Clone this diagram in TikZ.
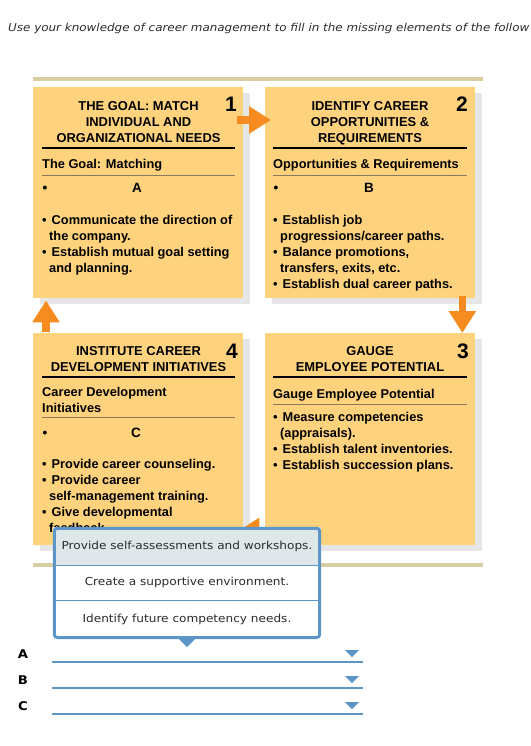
\documentclass[tikz,border=0pt]{standalone}
\usepackage{fontspec}
\setmainfont{Liberation Sans}
\newfontfamily\uifont[FakeStretch=1.1]{DejaVu Sans}
\usetikzlibrary{arrows.meta, positioning, shadows}
\definecolor{cardFill}{HTML}{FFD37E}
\definecolor{shadowGray}{HTML}{E6E6E6}
\definecolor{flowOrange}{HTML}{F68B1F}
\definecolor{frameBeige}{HTML}{D9CEA3}
\definecolor{ruleBrown}{HTML}{8A7A5C}
\definecolor{uiBlue}{HTML}{5B96C6}
\definecolor{optHi}{HTML}{DFE7EA}
\definecolor{uiText}{HTML}{2B2B2B}
\newcommand{\bul}{\makebox[9.5pt][l]{\textbullet}}
\newcommand{\hang}{\hspace*{7pt}}

\begin{document}
\begin{tikzpicture}[
          x=1pt, y=-1pt,
          card/.style={fill=cardFill, anchor=north west, inner sep=0pt, minimum width=210pt, minimum height=211pt,
            general shadow={fill=shadowGray, shadow xshift=7pt, shadow yshift=-6pt}},
          head/.style={font=\bfseries\fontsize{12.9}{16}\selectfont, align=center, inner sep=0pt, anchor=north},
          num/.style={font=\bfseries\fontsize{21}{21}\selectfont, inner sep=0pt, anchor=base},
          sub/.style={font=\bfseries\fontsize{12.8}{16}\selectfont, align=left, inner sep=0pt, anchor=north west},
          blank/.style={font=\bfseries\fontsize{13.5}{16}\selectfont, inner sep=0pt, anchor=base},
          rule/.style={draw=black, line width=1.1pt},
          subrule/.style={draw=ruleBrown, line width=0.9pt},
          frame/.style={draw=frameBeige, line width=4pt},
          flow/.style={draw=flowOrange, line width=7.5pt, -{Triangle[length=22pt, width=26pt]}},
          opt/.style={font=\uifont\fontsize{11}{13}\selectfont, text=uiText, minimum width=268pt, inner sep=0pt},
          ans/.style={font=\uifont\bfseries\fontsize{12}{12}\selectfont, text=black, inner sep=0pt, anchor=base},
          pick/.style={draw=uiBlue, line width=2pt}
        ]
        \useasboundingbox (0,0) rectangle (530,746);

        % question line
        \node[font=\uifont\itshape\fontsize{10.85}{13}\selectfont, text=uiText, inner sep=0pt, anchor=base west] (q) at (8,32)
          {Use your knowledge of career management to fill in the missing elements of the follow};

        % frame lines
        \draw[frame] (33,79) -- (483,79);
        \draw[frame] (33,565) -- (483,565);

        % the four cards
        \node[card] (g1) at (33,87) {};
        \node[card] (g2) at (265,87) {};
        \node[card, minimum height=212pt] (g4) at (33,333) {};
        \node[card, minimum height=212pt] (g3) at (265,333) {};

        % card 1
        \node[head] (h1) at (138.5,100.8) {THE GOAL: MATCH\\INDIVIDUAL AND\\ORGANIZATIONAL NEEDS};
        \node[num] (n1) at (231,112) {1};
        \draw[rule] (42,148) -- (235,148);
        \node[sub, anchor=base west] (s1) at (42,168) {The Goal: Matching};
        \draw[subrule] (42,175) -- (235,175);
        \node[blank] (d1) at (45,192) {\textbullet};
        \node[blank] (a1) at (137,192) {A};
        \node[sub] (l1) at (42,214.6) {\bul Communicate the direction of\\\hang the company.\\\bul Establish mutual goal setting\\\hang and planning.};

        % card 2
        \node[head] (h2) at (370,100.8) {IDENTIFY CAREER\\OPPORTUNITIES \&\\REQUIREMENTS};
        \node[num] (n2) at (462,112) {2};
        \draw[rule] (273,148) -- (467,148);
        \node[sub, anchor=base west] (s2) at (273,168) {Opportunities \& Requirements};
        \draw[subrule] (273,175) -- (467,175);
        \node[blank] (d2) at (276,192) {\textbullet};
        \node[blank] (b2) at (369,192) {B};
        \node[sub] (l2) at (273,214.6) {\bul Establish job\\\hang progressions/career paths.\\\bul Balance promotions,\\\hang transfers, exits, etc.\\\bul Establish dual career paths.};

        % card 3
        \node[head] (h3) at (370,346.6) {GAUGE\\EMPLOYEE POTENTIAL};
        \node[num] (n3) at (463,358) {3};
        \draw[rule] (273,377) -- (467,377);
        \node[sub, anchor=base west] (s3) at (273,398) {Gauge Employee Potential};
        \draw[subrule] (273,404) -- (467,404);
        \node[sub] (l3) at (273,411.6) {\bul Measure competencies\\\hang (appraisals).\\\bul Establish talent inventories.\\\bul Establish succession plans.};

        % card 4
        \node[head] (h4) at (138.5,346.6) {INSTITUTE CAREER\\DEVELOPMENT INITIATIVES};
        \node[num] (n4) at (232,358) {4};
        \draw[rule] (42,377) -- (235,377);
        \node[sub] (s4) at (42,386.6) {Career Development\\Initiatives};
        \draw[subrule] (42,417) -- (235,417);
        \node[blank] (d4) at (45,437) {\textbullet};
        \node[blank] (c4) at (136,437) {C};
        \node[sub] (l4) at (42,458.6) {\bul Provide career counseling.\\\bul Provide career\\\hang self-management training.\\\bul Give developmental\\\hang feedback.};

        % cycle arrows
        \draw[flow] ([xshift=-6pt, yshift=-33pt]g1.north east) -- ([xshift=6pt, yshift=-33pt]g2.north west);
        \draw[flow] ([xshift=-13pt, yshift=2pt]g2.south east) -- ([xshift=-13pt]g3.north east);
        \draw[flow] ([xshift=6pt, yshift=14pt]g3.south west) -- ([xshift=-6pt, yshift=14pt]g4.south east);
        \draw[flow] ([xshift=13pt, yshift=1pt]g4.north west) -- ([xshift=13pt, yshift=-2pt]g1.south west);

        % drop-down list
        \node[opt, fill=optHi, minimum height=38pt] (o1) at (187,546) {Provide self-assessments and workshops.};
        \node[opt, fill=white, minimum height=35pt, below=0pt of o1] (o2) {Create a supportive environment.};
        \node[opt, fill=white, minimum height=38pt, below=0pt of o2] (o3) {Identify future competency needs.};
        \draw[uiBlue, line width=1pt] (o1.south west) -- (o1.south east);
        \draw[uiBlue, line width=1pt] (o2.south west) -- (o2.south east);
        \draw[uiBlue, line width=3pt, rounded corners=3pt] ([xshift=1.5pt, yshift=-1.5pt]o1.north west) rectangle ([xshift=-1.5pt, yshift=1.5pt]o3.south east);
        \fill[uiBlue] ([xshift=-8pt]o3.south) -- ([xshift=8pt]o3.south) -- ([yshift=-8pt]o3.south) -- cycle;

        % answer rows
        \node[ans] (ra) at (23,658) {A};
        \node[ans] (rb) at (23,684) {B};
        \node[ans] (rc) at (23,710) {C};
        \coordinate (ea) at (363,662);
        \coordinate (eb) at (363,688);
        \coordinate (ec) at (363,714);
        \draw[pick] (52,662) -- (ea);
        \draw[pick] (52,688) -- (eb);
        \draw[pick] (52,714) -- (ec);
        \fill[uiBlue] ([xshift=-18pt, yshift=12pt]ea) -- ([xshift=-4pt, yshift=12pt]ea) -- ([xshift=-11pt, yshift=5pt]ea) -- cycle;
        \fill[uiBlue] ([xshift=-18pt, yshift=12pt]eb) -- ([xshift=-4pt, yshift=12pt]eb) -- ([xshift=-11pt, yshift=5pt]eb) -- cycle;
        \fill[uiBlue] ([xshift=-18pt, yshift=12pt]ec) -- ([xshift=-4pt, yshift=12pt]ec) -- ([xshift=-11pt, yshift=5pt]ec) -- cycle;
      \end{tikzpicture}
\end{document}
